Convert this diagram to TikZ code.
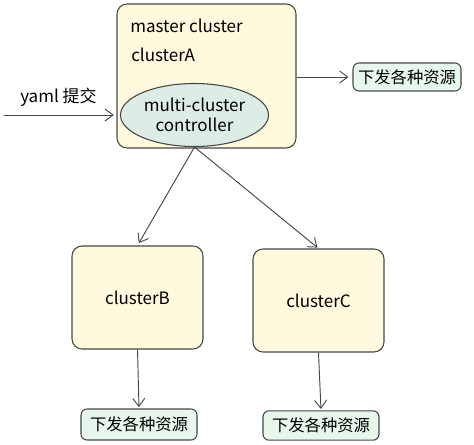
\documentclass[tikz,border=0pt]{standalone}
\usepackage{fontspec}
\setmainfont{Noto Sans CJK SC}
\usetikzlibrary{shapes.geometric,arrows.meta}
\definecolor{edgegray}{RGB}{70,70,70}
\definecolor{boxyellow}{RGB}{255,249,222}
\definecolor{resgreen}{RGB}{232,247,236}
\definecolor{ctrlblue}{RGB}{222,236,230}

\begin{document}
\begin{tikzpicture}[x=0.75pt,y=0.75pt,yscale=-1,xscale=1,
  lbl/.style={font=\fontsize{12.75pt}{14.5pt}\selectfont,inner sep=0pt},
  clusterbox/.style={draw=edgegray,fill=boxyellow,rounded corners=7.5pt,line width=0.8pt},
  resbox/.style={draw=edgegray,fill=resgreen,rounded corners=4.5pt,line width=0.8pt,font=\fontsize{12.25pt}{14pt}\selectfont,inner sep=0pt},
  flow/.style={draw=edgegray,line width=0.7pt,-{Straight Barb[length=6pt,width=9pt]}}]
\useasboundingbox (0,0) rectangle (474,445);

%Shape: Rectangle [master cluster]
\node[clusterbox,minimum width=134.25pt,minimum height=108pt] (master) at (206.5,76) {};
\node[lbl,anchor=west] (mastername) at (130,26) {master cluster};
\node[lbl,anchor=west] (nameA) at (131,55) {clusterA};
%Shape: Ellipse [controller]
\node[lbl,ellipse,draw=edgegray,fill=ctrlblue,line width=0.8pt,minimum width=111pt,minimum height=47.25pt,align=center] (ctrl) at (194.5,115) {multi-cluster\\controller};

%Shape: Rectangle [member clusters]
\node[lbl,clusterbox,minimum width=98.25pt,minimum height=77.25pt] (clusterB) at (137.5,297.5) {clusterB};
\node[lbl,clusterbox,minimum width=98.25pt,minimum height=77.25pt] (clusterC) at (318.5,300.5) {clusterC};

%Shape: Rectangle [resources]
\node[resbox,minimum width=81pt,minimum height=21pt] (resA) at (407,77) {下发各种资源};
\node[resbox,minimum width=87pt,minimum height=23.25pt] (resB) at (139,424.5) {下发各种资源};
\node[resbox,minimum width=87pt,minimum height=22pt] (resC) at (321,425.5) {下发各种资源};

%Straight Lines
\coordinate (yamlin) at (4,115);
\node[lbl,anchor=west] (yamllbl) at (20,97) {yaml 提交};
\draw[flow,shorten >=2pt] (yamlin) -- (yamlin -| master.west);
\draw[flow,shorten >=3pt] (master.east |- resA.west) -- (resA.west);
\draw[flow,shorten >=2pt] (ctrl.south) -- (clusterB.north);
\draw[flow,shorten >=1pt] (ctrl.south) -- (clusterC.north);
\draw[flow,shorten >=1pt] (clusterB.south) -- (resB.north);
\draw[flow,shorten >=1pt] (clusterC.south) -- (resC.north);

\end{tikzpicture}
\end{document}
